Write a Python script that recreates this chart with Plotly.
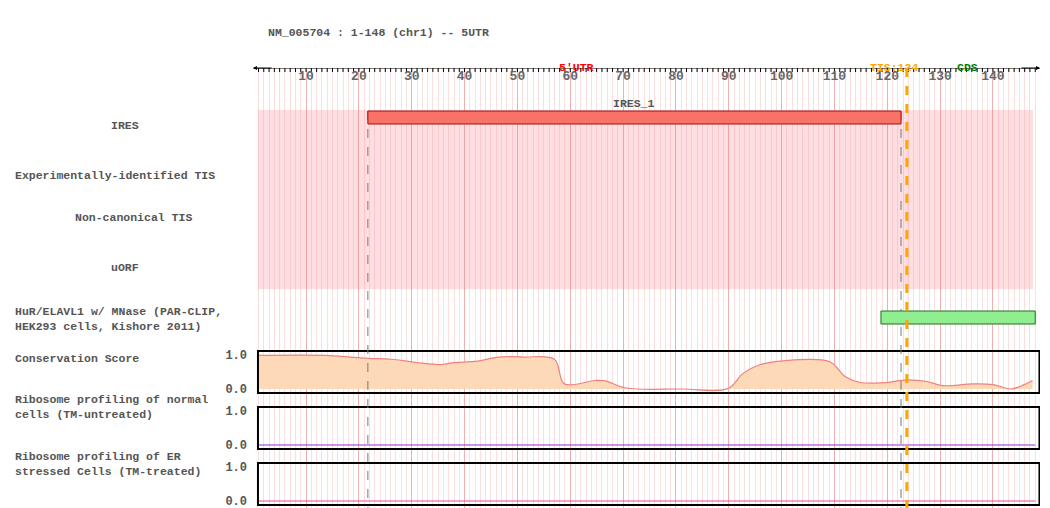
import plotly.graph_objects as go

title = "NM_005704 : 1-148 (chr1) -- 5UTR"
seq_len = 148
tick_labels = [10, 20, 30, 40, 50, 60, 70, 80, 90, 100, 110, 120, 130, 140]
track_names = ["IRES", "Experimentally-identified TIS", "Non-canonical TIS", "uORF",
               "HuR/ELAVL1 w/ MNase (PAR-CLIP,<br>HEK293 cells, Kishore 2011)",
               "Conservation Score", "Ribosome profiling of normal<br>cells (TM-untreated)",
               "Ribosome profiling of ER<br>stressed Cells (TM-treated)"]
ires_name = "IRES_1"
ires_start, ires_end = 21.7, 122.6
hur_start, hur_end = 118.8, 148
tis_pos = 124
cons_pos = [1, 1.5, 13.5, 18.4, 21.8, 26.1, 30.9, 35.8, 37.7, 42.5, 46.4, 51.2, 57, 58.9, 64.7, 66.6,
            70.5, 81.1, 89.8, 92.7, 95.6, 100.4, 109.1, 112, 114.9, 119.8, 123.6, 127.5, 130.4,
            136.2, 140, 143.4, 145.8, 147.5]
cons_val = [0.99, 0.99, 0.99, 0.94, 0.90, 0.875, 0.78, 0.72, 0.77, 0.82, 0.94, 0.94, 0.875, 0.15,
            0.25, 0.24, 0.03, 0.0, 0.01, 0.46, 0.70, 0.83, 0.80, 0.37, 0.19, 0.19, 0.27, 0.22, 0.10,
            0.15, 0.13, 0.0, 0.12, 0.25]
positions = list(range(1, seq_len + 1))
ribo_normal = [0.0] * seq_len
ribo_er = [0.0] * seq_len

FONT = "Liberation Mono"
GREY = "#555555"
FS = 11.5
T, B, L, R = 60, 502, 245, 1032
def py(p):  # pixel y -> paper
    return (B - p) / (B - T)
def px(p):
    return (p - L) / (R - L)

fig = go.Figure()
tx, ty = [], []
for p in positions:
    tx += [p, p, None]; ty += [56, 64, None]
fig.add_trace(go.Scatter(x=tx, y=ty, mode="lines", line=dict(color="black", width=1),
                         hoverinfo="skip", showlegend=False))

def dom(a, b):
    return [py(b), py(a)]

fig.add_trace(go.Scatter(x=cons_pos, y=cons_val, mode="lines", fill="tozeroy",
                         fillcolor="#fdd9b8", line=dict(color="#f08080", width=1.2, shape="spline"),
                         xaxis="x", yaxis="y2", showlegend=False))
fig.add_trace(go.Scatter(x=positions, y=ribo_normal, mode="lines", line=dict(color="#9b30d0", width=1),
                         yaxis="y3", showlegend=False))
fig.add_trace(go.Scatter(x=positions, y=ribo_er, mode="lines", line=dict(color="#e0509a", width=1),
                         yaxis="y4", showlegend=False))

yt = dict(range=[-0.118, 1.118], tickvals=[0, 1], ticktext=["0.0", "1.0"], showgrid=False,
          zeroline=False, anchor="x", ticks="", automargin=False,
          tickfont=dict(family=FONT, size=12, color=GREY, weight="bold"), ticklabelstandoff=5)
fig.update_layout(
    width=1050, height=508, margin=dict(l=L, r=1050 - R, t=T, b=508 - B, autoexpand=False),
    paper_bgcolor="white", plot_bgcolor="white",
    xaxis=dict(range=[-0.04, 148.9], side="top", showline=False, zeroline=False, automargin=False,
               tickvals=tick_labels, ticks="", ticklabelposition="inside",
               tickfont=dict(family=FONT, size=13, color="#666666", weight="bold"),
               showgrid=True, gridcolor="rgba(230,120,120,0.45)", gridwidth=1,
               minor=dict(tickvals=positions, showgrid=True, gridcolor="rgba(240,150,150,0.3)", gridwidth=1)),
    yaxis=dict(range=[B, T], visible=False, domain=[0, 1], automargin=False),
    yaxis2=dict(domain=dom(343, 385), **yt),
    yaxis3=dict(domain=dom(399, 441), **yt),
    yaxis4=dict(domain=dom(455, 497), **yt),
)

shapes = []
shapes.append(dict(type="rect", xref="x", yref="y", x0=0.9, x1=147.6, y0=102, y1=281,
                   fillcolor="rgba(255,190,195,0.5)", line_width=0, layer="below"))
shapes.append(dict(type="line", xref="x", yref="y", x0=-0.04, x1=148.9, y0=60, y1=60,
                   line=dict(color="black", width=1)))
for ax in ["y2", "y3", "y4"]:
    shapes.append(dict(type="rect", xref="x", yref=f"{ax} domain", x0=0.9, x1=148.8, y0=0, y1=1,
                       line=dict(color="black", width=2)))
for xv in [ires_start, ires_end]:
    shapes.append(dict(type="line", xref="x", yref="y", x0=xv, x1=xv, y0=103, y1=502,
                       line=dict(color="#777777", width=1, dash="dash")))
shapes.append(dict(type="rect", xref="x", yref="y", x0=ires_start, x1=ires_end, y0=103, y1=116,
                   fillcolor="#f87268", line=dict(color="#a01010", width=1)))
shapes.append(dict(type="rect", xref="x", yref="y", x0=hur_start, x1=hur_end, y0=303, y1=316,
                   fillcolor="#90ee90", line=dict(color="#207020", width=1)))
shapes.append(dict(type="line", xref="x", yref="y", x0=tis_pos - 0.3, x1=tis_pos - 0.3, y0=60, y1=502,
                   line=dict(color="orange", width=3, dash="dash")))
fig.update_layout(shapes=shapes)

ann = []
ann.append(dict(text=title, xref="paper", yref="paper", x=px(258), y=py(16), xanchor="left",
                showarrow=False, font=dict(family=FONT, size=FS, color=GREY, weight="bold")))
for t, xx, c in [("5'UTR", 568, "red"), ("TIS:124", 912, "orange"), ("CDS", 972, "green")]:
    ann.append(dict(text=t, xref="paper", yref="paper", x=px(xx), y=py(51), showarrow=False,
                    font=dict(family=FONT, size=FS, color=c, weight="bold")))
ann.append(dict(text=ires_name, xref="x", yref="y", x=(ires_start + ires_end) / 2, y=95,
                showarrow=False, font=dict(family=FONT, size=FS, color=GREY, weight="bold")))
label_pos = [(117, 109, "center"), (5, 159, "left"), (125, 209, "center"), (117, 259, "center"),
             (5, 311, "left"), (5, 350, "left"), (5, 415, "left"), (5, 472, "left")]
for name, (lx, ly, al) in zip(track_names, label_pos):
    ann.append(dict(text=name, xref="paper", yref="paper", x=px(lx), y=py(ly),
                    xanchor="left" if al == "left" else "center", align="left", showarrow=False,
                    font=dict(family=FONT, size=FS, color=GREY, weight="bold")))
for x0, xa in [(-0.04, 20), (148.9, -20)]:
    ann.append(dict(x=x0, y=60, xref="x", yref="y", ax=xa, ay=0, showarrow=True,
                    arrowhead=2, arrowsize=0.8, arrowwidth=1, arrowcolor="black", text=""))
fig.update_layout(annotations=ann)

fig.write_html("out.html")
